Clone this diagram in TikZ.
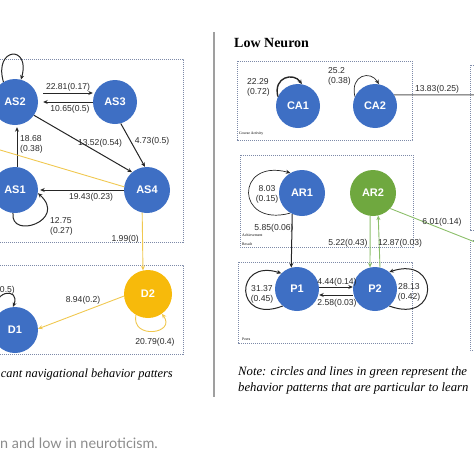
\documentclass[tikz,border=0pt]{standalone}
\usepackage{fontspec}
\setmainfont{Liberation Serif}
\newfontfamily\arialf{Liberation Sans}
\newfontfamily\latof{Lato}
\usetikzlibrary{arrows.meta}
\definecolor{nblue}{HTML}{3E6FC4}
\definecolor{nyellow}{HTML}{F7BA0B}
\definecolor{ngreen}{HTML}{6FA83F}
\definecolor{lyellow}{HTML}{F0C850}
\definecolor{lgreen}{HTML}{8CBF6A}
\definecolor{boxc}{HTML}{7D8AA8}
\definecolor{labc}{HTML}{2A2A2A}
\begin{document}
\begin{tikzpicture}[x=1pt,y=-1pt,
  circ/.style={circle,draw=none,fill=nblue,text=white,font=\arialf\bfseries\fontsize{11}{12}\selectfont,inner sep=0pt,minimum size=#1},
  edge/.style={draw=black!85,line width=1pt,-{Stealth[length=4.5pt,width=4pt]}},
  yline/.style={draw=lyellow,line width=0.9pt},
  yedge/.style={yline,-{Stealth[length=4.5pt,width=4pt]}},
  gline/.style={draw=lgreen,line width=0.9pt},
  gedge/.style={gline,-{Stealth[length=4.5pt,width=4pt]}},
  lab/.style={font=\arialf\fontsize{8.6}{10}\selectfont,text=labc,inner sep=0pt,align=center},
  panel/.style={draw=boxc,line width=0.5pt,dash pattern=on 1.2pt off 0.8pt},
  tinylab/.style={font=\fontsize{3.8}{4}\selectfont,inner sep=0pt,anchor=west},
  captext/.style={font=\itshape\fontsize{12.4}{14}\selectfont,inner sep=0pt},
  notetext/.style={font=\itshape\fontsize{12.7}{15}\selectfont,inner sep=0pt}
]
\useasboundingbox (0,0) rectangle (474,474);
\clip (0,0) rectangle (474,474);

% panels
\draw[panel] (-5,59) rectangle (183,242);
\draw[panel] (-5,265) rectangle (183,354);
\draw[panel] (237,61) rectangle (412,140);
\draw[panel] (240,155) rectangle (413,247);
\draw[panel] (238,262) rectangle (412,343);
\draw[panel] (470,65) rectangle (480,230);
\draw[panel] (470,240) rectangle (480,350);

% separator
\draw[line width=2pt,draw=gray!75] (214,32) -- (214,397);

% nodes
\node[circ=46pt] (AS2) at (15,102) {AS2};
\node[circ=44pt] (AS3) at (115,102) {AS3};
\node[circ=46pt] (AS4) at (147,190) {AS4};
\node[circ=46pt] (AS1) at (15,190) {AS1};
\node[circ=48pt,fill=nyellow] (D2) at (148,294) {D2};
\node[circ=46pt] (D1) at (15,330) {D1};
\node[circ=44pt] (CA1) at (298,106) {CA1};
\node[circ=44pt] (CA2) at (375,106) {CA2};
\node[circ=46pt] (AR1) at (302,193) {AR1};
\node[circ=46pt,fill=ngreen] (AR2) at (373,193) {AR2};
\node[circ=44pt] (P1) at (297,289) {P1};
\node[circ=44pt] (P2) at (375,289) {P2};

% left edges
\draw[edge] (AS2.120) .. controls +(-10,-35) and +(10,-35) .. (AS2.75);
\draw[edge,shorten <=5pt] ([yshift=9pt]AS2.east) -- ([yshift=9pt]AS3.west);
\draw[edge,shorten >=5pt] (AS3.west) -- (AS2.east);
\node[lab] (l1) at (68,87) {22.81(0.17)};
\node[lab] (l2) at (70,109) {10.65(0.5)};
\draw[edge,shorten >=2pt] ([xshift=2pt]AS1.north) -- ([xshift=2pt]AS2.south);
\node[lab,align=left,anchor=west] (l3) at (20,144) {18.68\\(0.38)};
\draw[edge] (AS2.-35) -- (AS4.130);
\node[lab] (l4) at (100,143) {13.52(0.54)};
\draw[edge] (AS3.-75) -- (AS4.95);
\node[lab] (l5) at (152,141) {4.73(0.5)};
\draw[edge,shorten >=2pt] (AS4.west) -- (AS1.east);
\node[lab] (l6) at (91,197) {19.43(0.23)};
\draw[edge] (AS1.-95) .. controls +(-3,27) and +(30,27) .. (AS1.-8);
\node[lab,align=left,anchor=west] (l7) at (50,226) {12.75\\(0.27)};

\coordinate (yl) at (-10,147);
\draw[yline] (AS4.172) -- (yl);
\draw[yedge] (AS4.-102) -- (D2.102);
\node[lab,anchor=east] (l8) at (139,239) {1.99(0)};
\draw[yedge] (D2.185) -- (D1.3);
\node[lab] (l9) at (83,300) {8.94(0.2)};
\draw[yedge] (D2.-120) .. controls +(-5,25) and +(15,20) .. (D2.-55);
\node[lab] (l10) at (155,342) {20.79(0.4)};
\draw[edge] (D1.150) .. controls +(-5,-30) and +(8,-20) .. (D1.95);
\node[lab,anchor=east] (l11) at (15,290) {0.5)};

% right panel
\node[font=\bfseries\fontsize{14}{15}\selectfont,anchor=west,inner sep=0pt] (title) at (234,43) {Low Neuron};
\draw[edge,line width=1.4pt] (CA1.155) .. controls +(-5,-20) and +(-8,-12) .. (CA1.80);
\node[lab,align=left,anchor=west] (l12) at (247,87) {22.29\\(0.72)};
\draw[edge,line width=0.7pt] (CA2.155) .. controls +(-5,-22) and +(-8,-14) .. (CA2.80);
\node[lab,align=left,anchor=west] (l13) at (328,76) {25.2\\(0.38)};
\coordinate (caend) at (480,95);
\draw[line width=1pt,draw=black!65] (CA2.30) -- (caend);
\node[lab] (l14) at (437,89) {13.83(0.25)};

\draw[edge,line width=0.7pt] (AR1.-120) .. controls (235,228) and (235,158) .. (AR1.120);
\node[lab] (l15) at (267,194) {8.03\\(0.15)};
\draw[edge] (AR1.-115) -- (P1.105);
\node[lab] (l16) at (274,228) {5.85(0.06)};
\draw[gedge] (AR2.-97) -- (P2.103);
\draw[gedge] (P2.77) -- (AR2.-77);
\node[lab] (l17) at (348,243) {5.22(0.43)};
\node[lab] (l18) at (400,243) {12.87(0.03)};
\coordinate (grend) at (480,244);
\draw[gline] (AR2.-42) -- (grend);
\node[lab] (l19) at (442,222) {6.01(0.14)};

\draw[edge] ([yshift=2pt]P1.east) -- ([yshift=2pt]P2.west);
\draw[edge] ([yshift=-6pt]P2.west) -- ([yshift=-6pt]P1.east);
\node[lab] (l20) at (337,282) {4.44(0.14)};
\node[lab] (l21) at (337,303) {2.58(0.03)};
\draw[edge] (P1.-130) .. controls (234,325) and (234,258) .. (P1.135);
\node[lab] (l22) at (262,294) {31.37\\(0.45)};
\draw[edge] (P2.-50) .. controls (440,325) and (440,255) .. (P2.50);
\node[lab] (l23) at (409,292) {28.13\\(0.42)};

% tiny panel labels
\node[tinylab] (t1) at (239,134) {Course Activity};
\node[tinylab] (t2) at (242,235) {Achievement};
\node[tinylab] (t3) at (242,244) {Result};
\node[tinylab] (t4) at (242,339) {Peers};

% captions
\node[captext,anchor=east] (c1) at (173,375) {cant navigational behavior patters};
\node[notetext,anchor=west] (c2) at (238,372) {Note: circles and lines in green represent the};
\node[notetext,anchor=west] (c3) at (238,388) {behavior patterns that are particular to learn};
\node[font=\latof\fontsize{14.4}{16}\selectfont,text=gray!90,anchor=west,inner sep=0pt] (c4) at (0,443) {n and low in neuroticism.};
\end{tikzpicture}
\end{document}
